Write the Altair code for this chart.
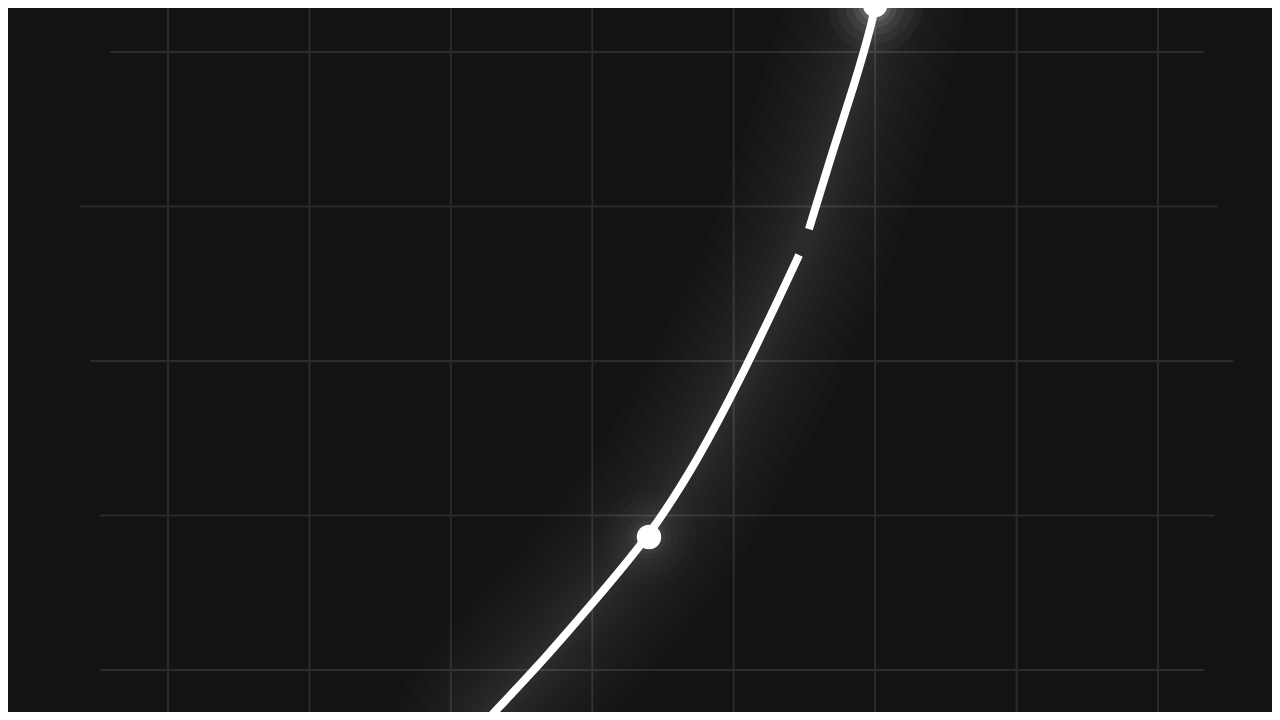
import altair as alt
import pandas as pd

# ---- data (grid units) ----
grid_x = [1, 2, 3, 4, 5, 6, 7, 8]
grid_y = [0, 1, 2, 3, 4]
grid_y_start = [0.52, 0.52, 0.45, 0.38, 0.59]
grid_y_end = [8.33, 8.40, 8.53, 8.42, 8.33]

curve_x = [3.256, 3.701, 4.020, 4.401, 4.747, 5.044, 5.348, 5.462,
           5.532, 5.702, 5.857, 5.978, 6.0]
curve_y = [-0.324, 0.110, 0.453, 0.861, 1.359, 1.877, 2.460, 2.686,
           2.854, 3.366, 3.799, 4.188, 4.304]
curve_seg = [0, 0, 0, 0, 0, 0, 0, 0, 1, 1, 1, 1, 1]

marker_x = [4.401, 6.0]
marker_y = [0.861, 4.304]
marker_glow = [0.35, 1.0]

X_DOMAIN = [-0.1313, 8.806]
Y_DOMAIN = [-0.272, 4.285]

BG = "#131313"
GRID = "#2b2b2b"

# ---- tables ----
vdf = pd.DataFrame({"gx": grid_x})
hdf = pd.DataFrame({"gy": grid_y, "x0": grid_y_start, "x1": grid_y_end})
cdf = pd.DataFrame({"i": range(len(curve_x)), "cx": curve_x, "cy": curve_y,
                    "seg": curve_seg})
mdf = pd.DataFrame({"mx": marker_x, "my": marker_y, "g": marker_glow})

xs = alt.Scale(domain=X_DOMAIN, nice=False, zero=False)
ys = alt.Scale(domain=Y_DOMAIN, nice=False, zero=False)

vgrid = alt.Chart(vdf).mark_rule(stroke=GRID, strokeWidth=2).encode(
    x=alt.X("gx:Q", scale=xs, axis=None)
)
hgrid = alt.Chart(hdf).mark_rule(stroke=GRID, strokeWidth=2).encode(
    x=alt.X("x0:Q", scale=xs, axis=None),
    x2="x1:Q",
    y=alt.Y("gy:Q", scale=ys, axis=None),
)

glow_layers = []
for w in [180, 160, 140, 120, 100, 84, 68, 54, 42, 32, 24, 17]:
    glow_layers.append(
        alt.Chart(cdf).mark_line(
            stroke="#ffffff", strokeWidth=w, opacity=0.011,
            interpolate="basis", strokeCap="round", strokeJoin="round"
        ).encode(
            x=alt.X("cx:Q", scale=xs, axis=None),
            y=alt.Y("cy:Q", scale=ys, axis=None),
            order="i:Q",
        )
    )

main_line = alt.Chart(cdf).mark_line(
    stroke="#ffffff", strokeWidth=8, interpolate="basis", strokeCap="butt"
).encode(
    x=alt.X("cx:Q", scale=xs, axis=None),
    y=alt.Y("cy:Q", scale=ys, axis=None),
    detail="seg:N",
    order="i:Q",
)

mglow = []
for s, op in [(9000, 0.03), (6000, 0.04), (3600, 0.05), (2000, 0.07), (1100, 0.1)]:
    mglow.append(
        alt.Chart(mdf).mark_circle(color="#ffffff", size=s).encode(
            x=alt.X("mx:Q", scale=xs, axis=None),
            y=alt.Y("my:Q", scale=ys, axis=None),
            opacity=alt.Opacity("g:Q", scale=alt.Scale(domain=[0, 1], range=[0, op]),
                                legend=None),
        )
    )

markers = alt.Chart(mdf).mark_circle(color="#ffffff", size=600, opacity=1).encode(
    x=alt.X("mx:Q", scale=xs, axis=None),
    y=alt.Y("my:Q", scale=ys, axis=None),
)

chart = alt.layer(
    vgrid, hgrid, *glow_layers, main_line, *mglow, markers
).resolve_scale(opacity="independent").properties(
    width=1264,
    height=704,
    autosize=alt.AutoSizeParams(type="none"),
    padding=0,
    background=BG,
).configure_view(strokeWidth=0, fill=BG)

chart.save("out.html", embed_options={"renderer": "svg", "actions": False})
